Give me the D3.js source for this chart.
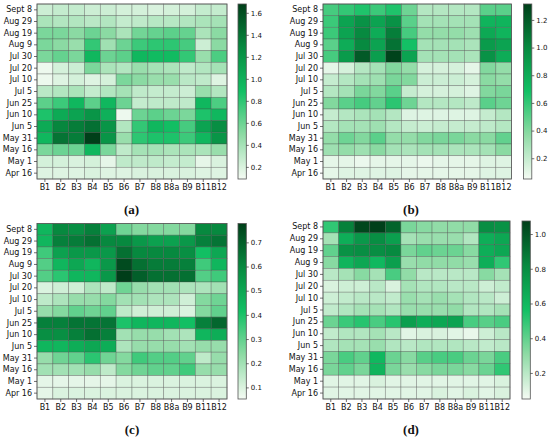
<!DOCTYPE html>
<html>
<head>
<meta charset="utf-8">
<script src="https://cdn.jsdelivr.net/npm/d3@7"></script>
<style>
  body { margin: 0; background: #fff; }
  svg text { font-family: "DejaVu Sans", sans-serif; fill: #111; }
  .panel-label { font-family: "Liberation Serif", serif; font-size: 13px; font-weight: bold; }
</style>
</head>
<body>
<svg id="chart" width="550" height="437"></svg>
<script>
const dates = ["Sept 8", "Aug 29", "Aug 19", "Aug 9", "Jul 30", "Jul 20", "Jul 10", "Jul 5",
  "Jun 25", "Jun 10", "Jun 5", "May 31", "May 16", "May 1", "Apr 16"];
const bands = ["B1", "B2", "B3", "B4", "B5", "B6", "B7", "B8", "B8a", "B9", "B11", "B12"];

const valuesA = [
  [0.25, 0.28, 0.28, 0.25, 0.25, 0.22, 0.22, 0.20, 0.22, 0.22, 0.28, 0.28],
  [0.38, 0.35, 0.35, 0.32, 0.35, 0.28, 0.30, 0.33, 0.33, 0.35, 0.38, 0.40],
  [0.55, 0.55, 0.50, 0.60, 0.50, 0.38, 0.58, 0.62, 0.65, 0.62, 0.38, 0.50],
  [0.55, 0.50, 0.45, 0.78, 0.42, 0.60, 0.75, 0.80, 0.80, 0.72, 0.25, 0.50],
  [0.55, 0.62, 0.55, 0.95, 0.60, 0.65, 0.95, 0.92, 0.92, 0.78, 0.45, 0.70],
  [0.12, 0.22, 0.25, 0.55, 0.38, 0.35, 0.45, 0.40, 0.38, 0.30, 0.35, 0.40],
  [0.12, 0.18, 0.22, 0.18, 0.22, 0.55, 0.50, 0.45, 0.45, 0.32, 0.30, 0.18],
  [0.32, 0.35, 0.38, 0.28, 0.35, 0.40, 0.30, 0.28, 0.28, 0.25, 0.45, 0.35],
  [0.65, 0.75, 0.95, 0.65, 0.95, 0.60, 0.28, 0.30, 0.30, 0.30, 0.95, 0.70],
  [0.85, 1.05, 1.10, 1.20, 1.00, 0.12, 0.60, 0.65, 0.60, 0.55, 0.85, 0.95],
  [1.05, 1.30, 1.35, 1.42, 1.20, 0.35, 0.78, 0.95, 0.90, 0.72, 1.10, 1.25],
  [0.95, 1.40, 1.35, 1.68, 1.20, 0.45, 0.80, 0.85, 0.85, 0.75, 0.95, 1.20],
  [0.55, 0.60, 0.60, 0.95, 0.55, 0.30, 0.40, 0.40, 0.38, 0.38, 0.38, 0.45],
  [0.22, 0.22, 0.20, 0.22, 0.15, 0.30, 0.30, 0.30, 0.28, 0.28, 0.15, 0.20],
  [0.18, 0.18, 0.18, 0.20, 0.18, 0.18, 0.20, 0.20, 0.20, 0.20, 0.18, 0.18],
];

const valuesB = [
  [0.55, 0.60, 0.65, 0.58, 0.65, 0.45, 0.25, 0.25, 0.25, 0.25, 0.50, 0.50],
  [0.58, 0.85, 0.95, 0.85, 0.95, 0.50, 0.30, 0.30, 0.30, 0.30, 0.75, 0.75],
  [0.58, 0.85, 1.00, 0.80, 1.05, 0.55, 0.35, 0.35, 0.35, 0.32, 0.82, 0.75],
  [0.50, 0.80, 1.00, 0.85, 1.10, 0.68, 0.30, 0.30, 0.30, 0.28, 0.90, 0.85],
  [0.55, 0.90, 1.20, 0.88, 1.30, 0.85, 0.30, 0.30, 0.30, 0.28, 0.95, 0.80],
  [0.10, 0.15, 0.25, 0.30, 0.40, 0.35, 0.15, 0.15, 0.15, 0.10, 0.40, 0.35],
  [0.20, 0.25, 0.30, 0.32, 0.42, 0.40, 0.18, 0.18, 0.18, 0.15, 0.38, 0.35],
  [0.25, 0.30, 0.42, 0.40, 0.50, 0.20, 0.15, 0.15, 0.15, 0.12, 0.40, 0.42],
  [0.40, 0.50, 0.55, 0.48, 0.62, 0.45, 0.25, 0.25, 0.25, 0.22, 0.50, 0.45],
  [0.20, 0.25, 0.28, 0.30, 0.25, 0.12, 0.12, 0.12, 0.12, 0.12, 0.20, 0.25],
  [0.25, 0.30, 0.30, 0.32, 0.25, 0.20, 0.18, 0.20, 0.20, 0.20, 0.22, 0.25],
  [0.35, 0.45, 0.40, 0.50, 0.35, 0.35, 0.40, 0.42, 0.42, 0.38, 0.38, 0.48],
  [0.32, 0.35, 0.32, 0.38, 0.30, 0.28, 0.30, 0.30, 0.28, 0.28, 0.30, 0.38],
  [0.10, 0.10, 0.08, 0.10, 0.10, 0.10, 0.08, 0.10, 0.10, 0.10, 0.12, 0.12],
  [0.10, 0.12, 0.12, 0.12, 0.12, 0.10, 0.10, 0.10, 0.10, 0.10, 0.12, 0.12],
];

const valuesC = [
  [0.45, 0.60, 0.58, 0.62, 0.52, 0.28, 0.25, 0.25, 0.25, 0.25, 0.60, 0.60],
  [0.45, 0.62, 0.63, 0.66, 0.60, 0.60, 0.55, 0.52, 0.52, 0.55, 0.62, 0.65],
  [0.35, 0.52, 0.55, 0.55, 0.55, 0.66, 0.60, 0.60, 0.60, 0.58, 0.42, 0.50],
  [0.32, 0.45, 0.50, 0.45, 0.55, 0.75, 0.66, 0.63, 0.63, 0.62, 0.35, 0.45],
  [0.32, 0.38, 0.45, 0.45, 0.55, 0.78, 0.70, 0.66, 0.66, 0.66, 0.32, 0.35],
  [0.10, 0.12, 0.12, 0.18, 0.15, 0.28, 0.22, 0.20, 0.20, 0.18, 0.18, 0.20],
  [0.15, 0.18, 0.22, 0.22, 0.25, 0.20, 0.20, 0.18, 0.18, 0.12, 0.25, 0.28],
  [0.22, 0.25, 0.30, 0.28, 0.30, 0.15, 0.12, 0.12, 0.12, 0.10, 0.25, 0.30],
  [0.62, 0.62, 0.65, 0.65, 0.65, 0.40, 0.45, 0.45, 0.45, 0.42, 0.62, 0.68],
  [0.58, 0.58, 0.62, 0.66, 0.62, 0.20, 0.22, 0.22, 0.20, 0.18, 0.45, 0.48],
  [0.45, 0.45, 0.48, 0.50, 0.48, 0.18, 0.22, 0.22, 0.22, 0.20, 0.22, 0.22],
  [0.22, 0.28, 0.30, 0.38, 0.28, 0.25, 0.35, 0.32, 0.32, 0.30, 0.15, 0.22],
  [0.20, 0.20, 0.20, 0.22, 0.15, 0.25, 0.28, 0.30, 0.30, 0.35, 0.22, 0.22],
  [0.08, 0.08, 0.08, 0.08, 0.08, 0.10, 0.10, 0.10, 0.10, 0.10, 0.10, 0.10],
  [0.08, 0.10, 0.10, 0.10, 0.10, 0.10, 0.10, 0.10, 0.10, 0.10, 0.10, 0.10],
];

const valuesD = [
  [0.50, 0.85, 1.05, 1.07, 0.95, 0.35, 0.32, 0.30, 0.30, 0.30, 0.80, 0.78],
  [0.25, 0.65, 0.75, 0.80, 0.72, 0.25, 0.28, 0.28, 0.28, 0.22, 0.65, 0.68],
  [0.40, 0.78, 0.80, 0.80, 0.82, 0.35, 0.40, 0.38, 0.38, 0.32, 0.65, 0.68],
  [0.32, 0.62, 0.68, 0.60, 0.72, 0.28, 0.30, 0.30, 0.30, 0.28, 0.65, 0.50],
  [0.20, 0.25, 0.32, 0.25, 0.45, 0.30, 0.20, 0.20, 0.20, 0.20, 0.32, 0.25],
  [0.12, 0.15, 0.15, 0.20, 0.12, 0.25, 0.22, 0.22, 0.20, 0.20, 0.15, 0.18],
  [0.15, 0.18, 0.20, 0.20, 0.18, 0.28, 0.25, 0.28, 0.25, 0.22, 0.20, 0.15],
  [0.18, 0.22, 0.25, 0.25, 0.22, 0.28, 0.28, 0.28, 0.30, 0.22, 0.22, 0.25],
  [0.38, 0.48, 0.52, 0.45, 0.52, 0.72, 0.65, 0.68, 0.70, 0.45, 0.42, 0.45],
  [0.18, 0.22, 0.22, 0.25, 0.20, 0.10, 0.12, 0.12, 0.10, 0.08, 0.15, 0.20],
  [0.22, 0.25, 0.25, 0.28, 0.22, 0.20, 0.22, 0.22, 0.22, 0.20, 0.18, 0.20],
  [0.35, 0.45, 0.40, 0.60, 0.38, 0.32, 0.42, 0.45, 0.45, 0.38, 0.35, 0.45],
  [0.35, 0.40, 0.35, 0.62, 0.35, 0.28, 0.32, 0.35, 0.35, 0.32, 0.38, 0.50],
  [0.10, 0.10, 0.10, 0.12, 0.10, 0.10, 0.10, 0.10, 0.10, 0.10, 0.10, 0.12],
  [0.10, 0.10, 0.10, 0.10, 0.10, 0.10, 0.10, 0.12, 0.10, 0.12, 0.10, 0.12],
];

const ticksA = [0.2, 0.4, 0.6, 0.8, 1.0, 1.2, 1.4, 1.6];
const ticksB = [0.2, 0.4, 0.6, 0.8, 1.0, 1.2];
const ticksC = [0.1, 0.2, 0.3, 0.4, 0.5, 0.6, 0.7];
const ticksD = [0.2, 0.4, 0.6, 0.8, 1.0];

// white -> bright green -> dark green
const greens = d3.piecewise(d3.interpolateRgb, ["#f5fbf4", "#8fdba5", "#12c064", "#078a40", "#003f19"]);

const panels = [
  { label: "(a)", values: valuesA, ticks: ticksA, vmin: 0.09, vmax: 1.68, x0: 37, x1: 227, y0: 4, y1: 179, cb: 238, lx: 131.5, ly: 214 },
  { label: "(b)", values: valuesB, ticks: ticksB, vmin: 0.05, vmax: 1.315, x0: 323, x1: 511.5, y0: 4, y1: 179, cb: 523.5, lx: 411, ly: 214 },
  { label: "(c)", values: valuesC, ticks: ticksC, vmin: 0.052, vmax: 0.778, x0: 37, x1: 227, y0: 223.5, y1: 399, cb: 238, lx: 132, ly: 434 },
  { label: "(d)", values: valuesD, ticks: ticksD, vmin: 0.05, vmax: 1.075, x0: 323, x1: 510, y0: 221, y1: 399, cb: 522, lx: 411, ly: 434 },
];

const svg = d3.select("#chart");
const defs = svg.append("defs");

panels.forEach((p, i) => drawPanel(p, i));

function drawPanel(p, i) {
  const x = d3.scaleBand().domain(bands).range([p.x0, p.x1]);
  const y = d3.scaleBand().domain(dates).range([p.y0, p.y1]);
  const color = d3.scaleSequential(greens).domain([p.vmin, p.vmax]);

  const cells = [];
  p.values.forEach((row, r) => row.forEach((v, c) => cells.push({ date: dates[r], band: bands[c], v })));

  const g = svg.append("g");
  g.selectAll("rect.cell")
    .data(cells)
    .join("rect")
    .attr("class", "cell")
    .attr("x", (d) => x(d.band))
    .attr("y", (d) => y(d.date))
    .attr("width", x.bandwidth())
    .attr("height", y.bandwidth())
    .attr("fill", (d) => color(d.v))
    .attr("stroke", "rgba(70,70,70,0.45)")
    .attr("stroke-width", 0.7);

  g.append("rect")
    .attr("x", p.x0).attr("y", p.y0)
    .attr("width", p.x1 - p.x0).attr("height", p.y1 - p.y0)
    .attr("fill", "none").attr("stroke", "#555").attr("stroke-width", 0.8);

  const yAxis = g.append("g")
    .attr("transform", `translate(${p.x0},0)`)
    .call(d3.axisLeft(y).tickSize(3).tickPadding(2));
  const xAxis = g.append("g")
    .attr("transform", `translate(0,${p.y1})`)
    .call(d3.axisBottom(x).tickSize(3).tickPadding(2));
  [yAxis, xAxis].forEach((ax) => {
    ax.select(".domain").remove();
    ax.selectAll("line").attr("stroke", "#333").attr("stroke-width", 0.7);
    ax.selectAll("text").attr("font-size", 8).attr("font-family", "DejaVu Sans").attr("fill", "#111");
  });

  // colorbar
  const cbW = 8.3;
  const cy = d3.scaleLinear().domain([p.vmin, p.vmax]).range([p.y1, p.y0]);
  const grad = defs.append("linearGradient")
    .attr("id", `grad${i}`)
    .attr("x1", 0).attr("y1", 1).attr("x2", 0).attr("y2", 0);
  d3.range(0, 1.0001, 0.05).forEach((t) => {
    grad.append("stop").attr("offset", t).attr("stop-color", greens(t));
  });
  g.append("rect")
    .attr("x", p.cb).attr("y", p.y0)
    .attr("width", cbW).attr("height", p.y1 - p.y0)
    .attr("fill", `url(#grad${i})`)
    .attr("stroke", "#555").attr("stroke-width", 0.8);

  const cAxis = g.append("g")
    .attr("transform", `translate(${p.cb + cbW},0)`)
    .call(d3.axisRight(cy).tickValues(p.ticks).tickFormat(d3.format(".1f")).tickSize(2.5).tickPadding(2));
  cAxis.select(".domain").remove();
  cAxis.selectAll("line").attr("stroke", "#333").attr("stroke-width", 0.7);
  cAxis.selectAll("text").attr("font-size", 7).attr("font-family", "DejaVu Sans").attr("fill", "#111");

  svg.append("text")
    .attr("class", "panel-label")
    .attr("x", p.lx).attr("y", p.ly)
    .attr("text-anchor", "middle")
    .text(p.label);
}
</script>
</body>
</html>
